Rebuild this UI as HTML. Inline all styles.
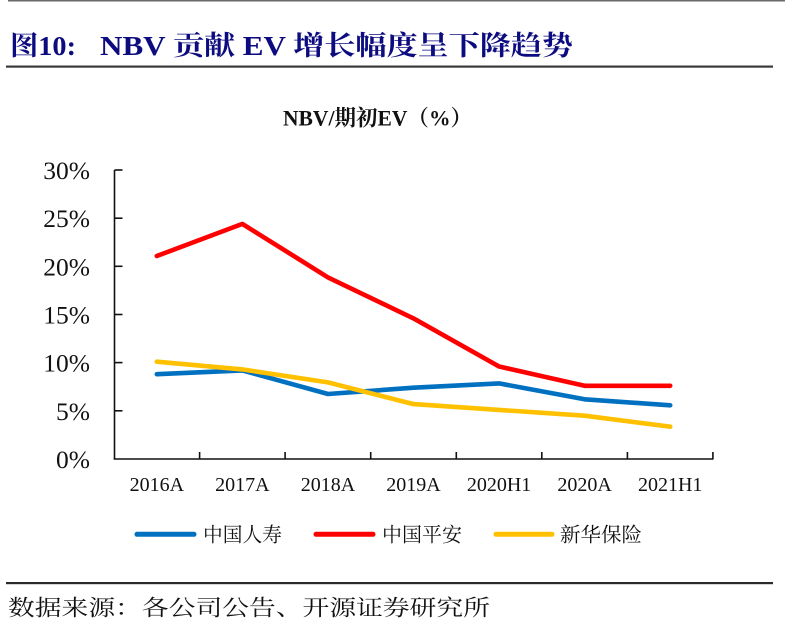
<!DOCTYPE html>
<html>
<head>
<meta charset="utf-8">
<style>
  html, body { margin: 0; padding: 0; background: #ffffff; }
  body { width: 805px; height: 636px; overflow: hidden; }
  svg { display: block; }
</style>
</head>
<body>
<svg width="805" height="636" viewBox="0 0 805 636" xmlns="http://www.w3.org/2000/svg">
  <rect x="0" y="0" width="805" height="636" fill="#ffffff"/>

  <!-- top thin line -->
  <rect x="8" y="0" width="777" height="1.5" fill="#6a6a6a"/>

  <!-- Title -->
  <g fill="#0c0c80" font-family="'Liberation Serif','Noto Serif CJK SC',serif" font-weight="bold" font-size="27">
    <text x="10" y="55" textLength="66" lengthAdjust="spacingAndGlyphs">图10:</text>
    <text x="100" y="55" textLength="473" lengthAdjust="spacingAndGlyphs">NBV 贡献 EV 增长幅度呈下降趋势</text>
  </g>
  <!-- title underline -->
  <rect x="6" y="65.5" width="767" height="2.2" fill="#3a3a3a"/>

  <!-- Chart subtitle -->
  <text x="283" y="125.5" textLength="189" lengthAdjust="spacingAndGlyphs" font-family="'Liberation Serif','Noto Serif CJK SC',serif" font-weight="bold" font-size="22" fill="#111">NBV/期初EV（%）</text>

  <!-- Y axis labels -->
  <g font-family="'Liberation Serif',serif" font-size="25.5" fill="#111" text-anchor="end">
    <text x="90" y="179">30%</text>
    <text x="90" y="227.2">25%</text>
    <text x="90" y="275.3">20%</text>
    <text x="90" y="323.5">15%</text>
    <text x="90" y="371.6">10%</text>
    <text x="90" y="419.8">5%</text>
    <text x="90" y="468">0%</text>
  </g>

  <!-- Axes -->
  <g stroke="#111" stroke-width="1.6" fill="none">
    <line x1="114.5" y1="170" x2="114.5" y2="459.5"/>
    <line x1="113.7" y1="459" x2="713.5" y2="459"/>
    <!-- y ticks (inward) -->
    <line x1="114.5" y1="170" x2="122.5" y2="170"/>
    <line x1="114.5" y1="218.2" x2="122.5" y2="218.2"/>
    <line x1="114.5" y1="266.3" x2="122.5" y2="266.3"/>
    <line x1="114.5" y1="314.5" x2="122.5" y2="314.5"/>
    <line x1="114.5" y1="362.6" x2="122.5" y2="362.6"/>
    <line x1="114.5" y1="410.8" x2="122.5" y2="410.8"/>
    <!-- x ticks (upward) -->
    <line x1="199.6" y1="459" x2="199.6" y2="452"/>
    <line x1="285.1" y1="459" x2="285.1" y2="452"/>
    <line x1="370.7" y1="459" x2="370.7" y2="452"/>
    <line x1="456.3" y1="459" x2="456.3" y2="452"/>
    <line x1="541.8" y1="459" x2="541.8" y2="452"/>
    <line x1="627.4" y1="459" x2="627.4" y2="452"/>
    <line x1="712.9" y1="459" x2="712.9" y2="452"/>
  </g>

  <!-- X axis labels -->
  <g font-family="'Liberation Serif',serif" font-size="20" fill="#111" text-anchor="middle">
    <text x="156.8" y="491">2016A</text>
    <text x="242.4" y="491">2017A</text>
    <text x="328.0" y="491">2018A</text>
    <text x="413.5" y="491">2019A</text>
    <text x="499.1" y="491">2020H1</text>
    <text x="584.6" y="491">2020A</text>
    <text x="670.2" y="491">2021H1</text>
  </g>

  <!-- Series -->
  <g fill="none" stroke-width="4.6" stroke-linejoin="round" stroke-linecap="round">
    <polyline stroke="#0070c0" points="156.8,374.2 242.4,370.4 328.0,394.0 413.5,387.7 499.1,383.4 584.6,399.3 670.2,405.3"/>
    <polyline stroke="#ff0000" points="156.8,256.0 242.4,223.9 328.0,277.4 413.5,318.4 499.1,366.5 584.6,385.8 670.2,385.8"/>
    <polyline stroke="#ffc000" points="156.8,361.7 242.4,369.4 328.0,382.4 413.5,404.1 499.1,409.9 584.6,415.7 670.2,426.7"/>
  </g>

  <!-- Legend -->
  <g stroke-width="5" stroke-linecap="round">
    <line x1="137" y1="534.3" x2="194" y2="534.3" stroke="#0070c0"/>
    <line x1="316" y1="534.3" x2="373" y2="534.3" stroke="#ff0000"/>
    <line x1="496" y1="534.3" x2="552" y2="534.3" stroke="#ffc000"/>
  </g>
  <g font-family="'Liberation Serif','Noto Serif CJK SC',serif" font-size="20" fill="#111">
    <text x="203" y="541.5" textLength="79" lengthAdjust="spacingAndGlyphs">中国人寿</text>
    <text x="382" y="541.5" textLength="80" lengthAdjust="spacingAndGlyphs">中国平安</text>
    <text x="560" y="541.5" textLength="82" lengthAdjust="spacingAndGlyphs">新华保险</text>
  </g>

  <!-- bottom line -->
  <rect x="6" y="582" width="767" height="2.2" fill="#2a2a2a"/>

  <!-- Source -->
  <text x="8" y="615.5" textLength="482" lengthAdjust="spacingAndGlyphs" font-family="'Liberation Serif','Noto Serif CJK SC',serif" font-size="22" fill="#111">数据来源：各公司公告、开源证券研究所</text>
</svg>
</body>
</html>
